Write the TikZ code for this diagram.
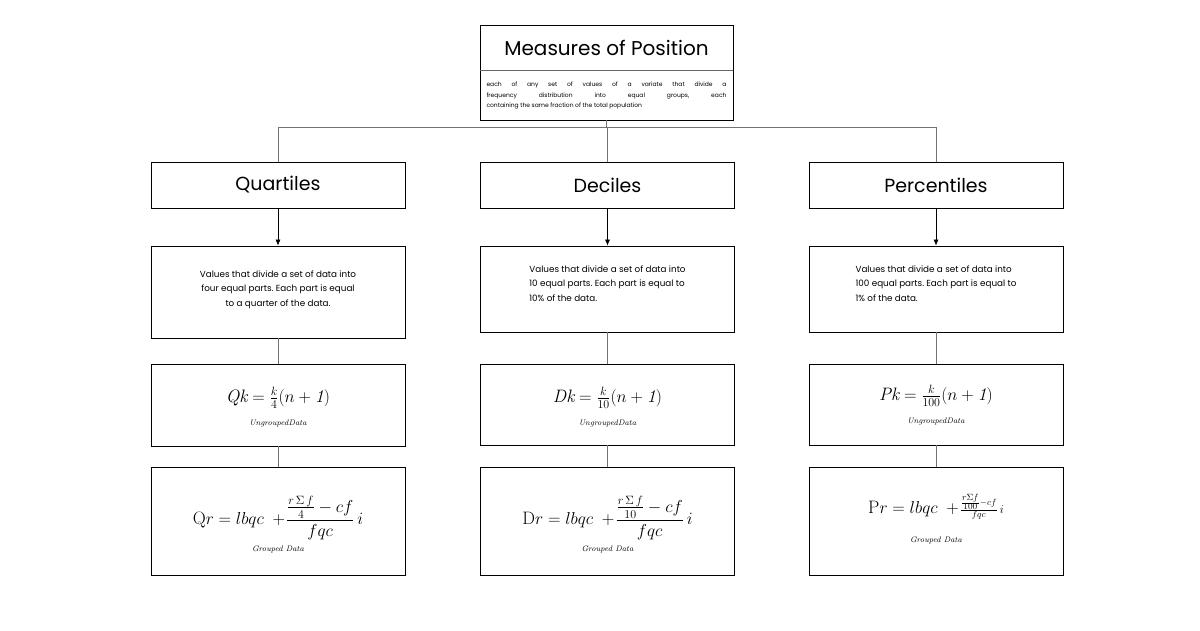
\documentclass[tikz,border=0pt]{standalone}
\usepackage{amsmath}
\usepackage{fontspec}
\setsansfont{Poppins}
\usetikzlibrary{arrows.meta}
\begin{document}
\frenchspacing
\begin{tikzpicture}[x=1pt,y=-1pt,
  box/.style={draw=black,line width=0.8pt,inner sep=0},
  ln/.style={draw=black!55,line width=0.8pt},
  ar/.style={draw=black,line width=0.6pt,-{Latex[length=6pt,width=5pt]}},
  ttl/.style={font=\sffamily\fontsize{19}{22}\selectfont},
  dsc/.style={font=\sffamily\fontsize{8.8}{14.5}\selectfont,align=center},
  fm/.style={font=\fontsize{18}{20}\selectfont,inner sep=0},
  sm/.style={font=\itshape\fontsize{8}{9}\selectfont,inner sep=0}]
\useasboundingbox (0,0) rectangle (1200,630);
% top
\node[box,minimum width=253pt,minimum height=95pt] (top) at (606.5,72.5) {};
\node[font=\sffamily\fontsize{20}{24}\selectfont] (tt) at (606.5,48) {Measures of Position};
\draw[black!60,line width=0.6pt] (480,70) -- (733,70);
\node[font=\sffamily\fontsize{6}{10.5}\selectfont,align=left,inner sep=0] (td) at (606.5,96) {\makebox[240pt][s]{each of any set of values of a variate that divide a}\\\makebox[240pt][s]{frequency \ \ distribution \ \ into \ \ equal \ \ groups, \ \ each}\\containing the same fraction of the total population};
\coordinate (j) at (606.5,127);
\coordinate (jl) at (278,127);
\coordinate (jr) at (936,127);
\draw[ln] (top.south) -- (j);
\draw[ln] (jl) -- (jr);
% columns
\foreach \n/\cx/\t/\dh/\fy/\fh in {q/278/Quartiles/92/405/82,
  d/607.5/Deciles/86/404.5/81,
  p/936/Percentiles/86/404.5/81}{
  \node[box,minimum width=254pt,minimum height=46pt,ttl] (\n h) at (\cx,185) {\t};
  \draw[ln] (\cx,127) -- (\n h.north);
  \node[box,minimum width=254pt,minimum height=\dh pt] (\n d) at (\cx,246+\dh/2) {};
  \draw[ar] (\n h.south) -- (\n d.north);
  \node[box,minimum width=254pt,minimum height=\fh pt] (\n f) at (\cx,\fy) {};
  \draw[ln] (\n d.south) -- (\n f.north);
  \node[box,minimum width=254pt,minimum height=108pt] (\n g) at (\cx,521) {};
  \draw[ln] (\n f.south) -- (\n g.north);
}
\node[dsc,anchor=north] (qdt) at (278,267) {Values that divide a set of data into\\four equal parts. Each part is equal\\to a quarter of the data.};
\node[dsc,anchor=north,align=left] (ddt) at (607.5,262) {Values that divide a set of data into\\10 equal parts. Each part is equal to\\10\% of the data.};
\node[dsc,anchor=north,align=left] (pdt) at (936,262) {Values that divide a set of data into\\100 equal parts. Each part is equal to\\1\% of the data.};
\node[fm] (qf) at (278,398) {$\mathit{Qk}=\frac{k}{4}(n+\mathit{1})$};
\node[sm] (qu) at (278,424) {UngroupedData};
\node[fm] (df) at (607.5,398) {$\mathit{Dk}=\frac{k}{10}(n+\mathit{1})$};
\node[sm] (du) at (607.5,424) {UngroupedData};
\node[fm] (pf) at (936,396) {$\mathit{Pk}=\frac{k}{100}(n+\mathit{1})$};
\node[sm] (pu) at (936,422) {UngroupedData};
\node[fm] (qg) at (278,518) {$\mathrm{Q}r=lbqc\;+\!\dfrac{\frac{r\,\Sigma\, f}{4}-cf}{fqc}\,i$};
\node[sm] (qgt) at (278,549) {Grouped Data};
\node[fm] (dg) at (607.5,518) {$\mathrm{D}r=lbqc\;+\!\dfrac{\frac{r\,\Sigma\, f}{10}-cf}{fqc}\,i$};
\node[sm] (dgt) at (607.5,549) {Grouped Data};
\node[fm] (pg) at (936,507) {$\mathrm{P}r=lbqc\;+\!{\scriptstyle\frac{\frac{r\Sigma f}{100}-cf}{fqc}\,i}$};
\node[sm] (pgt) at (936,540) {Grouped Data};
\end{tikzpicture}
\end{document}
